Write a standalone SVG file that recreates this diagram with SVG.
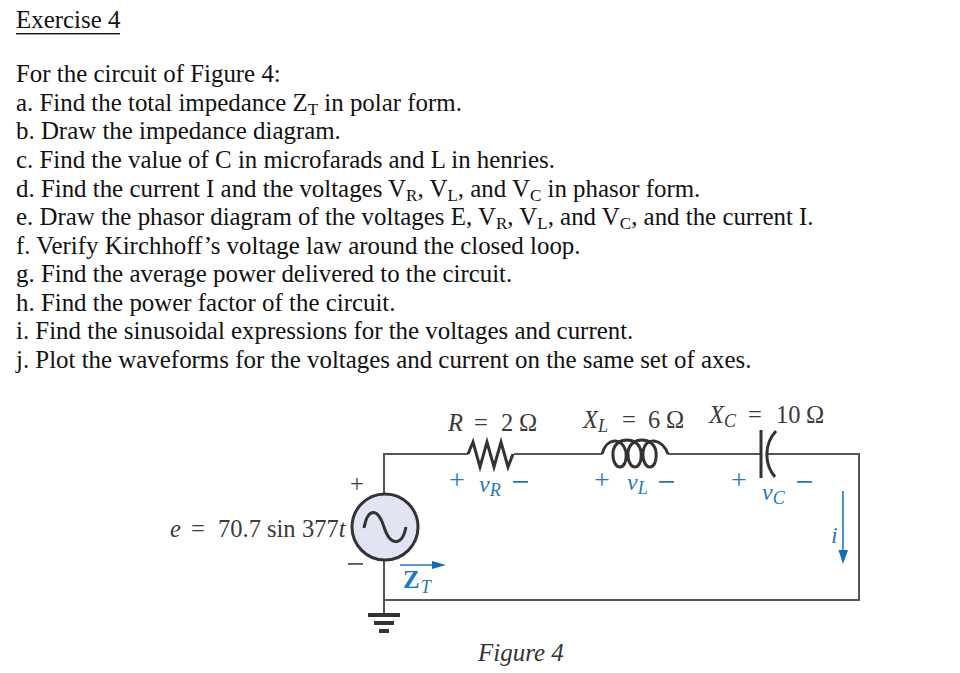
<svg xmlns="http://www.w3.org/2000/svg" width="960" height="673" viewBox="0 0 960 673">
<style>
.t{font-family:"Liberation Serif","Times New Roman",serif;font-size:24.900px;fill:#111}
.s{font-size:17px}
.c{font-family:"Liberation Serif","Times New Roman",serif;font-size:24.500px;fill:#3a3a3a}
.b{font-family:"Liberation Serif","Times New Roman",serif;font-size:24px;fill:#1f78c1}
.p{font-family:"Liberation Serif","Times New Roman",serif;font-size:28px;fill:#1f78c1}
.i{font-style:italic}
.w{fill:none;stroke:#555;stroke-width:2}
.k{fill:none;stroke:#333;stroke-width:3}
.bl{fill:none;stroke:#1f78c1;stroke-width:1.600}
.bh{fill:#0f6cb8}
</style>
<rect width="960" height="673" fill="#fff"/>
<g id="exercise-text">
<text class="t" x="16" y="28">Exercise 4</text>
<rect x="16" y="33" width="104" height="1.400" fill="#111"/>
<text class="t" x="16" y="82">For the circuit of Figure 4:</text>
<text class="t" x="16" y="111">a. Find the total impedance Z<tspan class="s" dy="4">T</tspan><tspan dy="-4"> in polar form.</tspan></text>
<text class="t" x="16" y="139">b. Draw the impedance diagram.</text>
<text class="t" x="16" y="168">c. Find the value of C in microfarads and L in henries.</text>
<text class="t" x="16" y="197">d. Find the current I and the voltages V<tspan class="s" dy="4">R</tspan><tspan dy="-4">, V</tspan><tspan class="s" dy="4">L</tspan><tspan dy="-4">, and V</tspan><tspan class="s" dy="4">C</tspan><tspan dy="-4"> in phasor form.</tspan></text>
<text class="t" x="16" y="225">e. Draw the phasor diagram of the voltages E, V<tspan class="s" dy="4">R</tspan><tspan dy="-4">, V</tspan><tspan class="s" dy="4">L</tspan><tspan dy="-4">, and V</tspan><tspan class="s" dy="4">C</tspan><tspan dy="-4">, and the current I.</tspan></text>
<text class="t" x="16" y="254">f. Verify Kirchhoff’s voltage law around the closed loop.</text>
<text class="t" x="16" y="282">g. Find the average power delivered to the circuit.</text>
<text class="t" x="16" y="311">h. Find the power factor of the circuit.</text>
<text class="t" x="16" y="339">i. Find the sinusoidal expressions for the voltages and current.</text>
<text class="t" x="16" y="368">j. Plot the waveforms for the voltages and current on the same set of axes.</text>
</g>
<g id="connectors">
<path class="w" d="M384 494V454H468M514 454H602M668 454H761M768 454H859V600H384V560"/>
<path class="w" d="M384 600V615"/>
</g>
<g id="source">
<circle cx="385" cy="527" r="33" fill="#e0e4f3" stroke="#333" stroke-width="3"/>
<path d="M364 528C368 507 378 508 384 527S402 547 406 527" fill="none" stroke="#333" stroke-width="3"/>
<text class="c" x="357" y="492" text-anchor="middle" font-size="28">+</text>
<rect x="348" y="563" width="15" height="1.800" fill="#555"/>
<text class="c" y="537"><tspan class="i" x="170">e</tspan><tspan x="191">=</tspan><tspan x="218">70.7</tspan><tspan x="267">sin</tspan><tspan x="302">377</tspan><tspan class="i">t</tspan></text>
</g>
<g id="ground">
<path d="M368 615H400" stroke="#333" stroke-width="4"/>
<path d="M374 623H394" stroke="#333" stroke-width="4"/>
<path d="M379 631H389" stroke="#333" stroke-width="4"/>
</g>
<g id="zt">
<path class="bl" d="M400 565H437"/>
<path class="bh" d="M446 565L432 561V569Z"/>
<text x="403" y="588" font-family="Liberation Serif,serif" font-size="25" font-weight="bold" fill="#1f78c1">Z<tspan class="i" font-size="18" font-weight="normal" dy="5" dx="1">T</tspan></text>
</g>
<g id="resistor">
<path class="k" d="M468 454L473 442L480 467L487 442L494 467L501 442L508 467L513 454"/>
<text class="c" y="431"><tspan class="i" x="448">R</tspan><tspan x="474">=</tspan><tspan x="501">2</tspan><tspan x="519">Ω</tspan></text>
<text class="p" x="457" y="489" text-anchor="middle">+</text>
<rect x="513" y="481" width="15" height="1.800" fill="#1f78c1"/>
<text class="b i" x="479" y="492">v<tspan font-size="18" dy="4">R</tspan></text>
</g>
<g id="inductor">
<path class="k" d="M602 454C606 438 622 436 626 452C628 472 612 472 613 452C615 436 639 436 641 452C643 472 627 472 628 452C630 436 654 436 656 452C658 472 642 472 643 452C645 436 662 438 668 454"/>
<text class="c" y="428"><tspan class="i" x="583">X</tspan><tspan class="i" font-size="18" dy="4">L</tspan><tspan x="622" dy="-4">=</tspan><tspan x="648">6</tspan><tspan x="666">Ω</tspan></text>
<text class="p" x="602" y="489" text-anchor="middle">+</text>
<rect x="659" y="481" width="15" height="1.800" fill="#1f78c1"/>
<text class="b i" x="627" y="490">v<tspan font-size="18" dy="4">L</tspan></text>
</g>
<g id="capacitor">
<path d="M761 430V478" stroke="#333" stroke-width="3"/>
<path class="k" d="M776 431C764 444 764 464 775 477"/>
<text class="c" y="423"><tspan class="i" x="709">X</tspan><tspan class="i" font-size="18" dy="4">C</tspan><tspan x="748" dy="-4">=</tspan><tspan x="776">10</tspan><tspan x="806">Ω</tspan></text>
<text class="p" x="739" y="489" text-anchor="middle">+</text>
<rect x="797" y="481" width="15" height="1.800" fill="#1f78c1"/>
<text class="b i" x="762" y="500">v<tspan font-size="18" dy="4">C</tspan></text>
</g>
<g id="current">
<path class="bl" d="M843 491V552"/>
<path class="bh" d="M843 564L838.500 550H848Z"/>
<text class="b i" x="831" y="543" font-size="20">i</text>
</g>
<g id="caption">
<text x="478" y="661" font-family="Liberation Serif,serif" font-size="25" font-style="italic" fill="#333">Figure 4</text>
</g>
</svg>
